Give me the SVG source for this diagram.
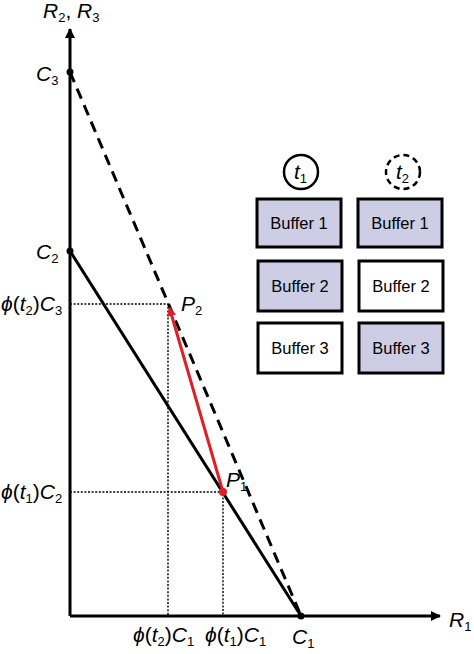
<svg xmlns="http://www.w3.org/2000/svg" width="474" height="654" viewBox="0 0 474 654">
<style>
.lbl{font-family:"Liberation Sans",Arial,sans-serif;font-size:21px;font-style:italic;fill:#000}
.up{font-style:normal}
.sub{font-size:13px;font-style:normal}
.btxt{font-family:"Liberation Sans",Arial,sans-serif;font-size:16.5px;fill:#000;text-anchor:middle}
.box{stroke:#000;stroke-width:3}
.on{fill:#cdcde6}
.off{fill:#fff}
.dot{stroke:#000;stroke-width:1.4;stroke-dasharray:2 1.6;fill:none}
</style>
<defs>
<marker id="ah" markerWidth="10" markerHeight="10" refX="9" refY="5" orient="auto" markerUnits="userSpaceOnUse">
<path d="M0,0 L10,5 L0,10 Z" fill="#000"/>
</marker>
<marker id="ahr" markerWidth="10" markerHeight="10" refX="8" refY="5" orient="auto" markerUnits="userSpaceOnUse">
<path d="M0,0.5 L9,5 L0,9.5 Z" fill="#e01e26"/>
</marker>
</defs>
<rect width="474" height="654" fill="#fff"/>
<g id="connectors">
<line x1="70" y1="616" x2="70" y2="29" stroke="#000" stroke-width="3" marker-end="url(#ah)"/>
<line x1="70" y1="616" x2="440" y2="616" stroke="#000" stroke-width="3" marker-end="url(#ah)"/>
<line x1="70" y1="72" x2="301" y2="616" stroke="#000" stroke-width="3" stroke-dasharray="11 7"/>
<line x1="70" y1="251" x2="301" y2="616" stroke="#000" stroke-width="3"/>
<path class="dot" d="M70,304 H168 V616"/>
<path class="dot" d="M70,492 H223 V616"/>
<line x1="223" y1="492" x2="169.5" y2="308" stroke="#e01e26" stroke-width="3" marker-end="url(#ahr)"/>
<circle cx="70" cy="72" r="3.5" fill="#000"/>
<circle cx="70" cy="251" r="3.5" fill="#000"/>
<circle cx="301" cy="616" r="3.5" fill="#000"/>
<circle cx="223" cy="492" r="4" fill="#e01e26"/>
</g>
<g id="axis-labels">
<text class="lbl" x="43" y="18">R<tspan class="sub" dy="4">2</tspan><tspan class="up" dy="-4">, </tspan>R<tspan class="sub" dy="4">3</tspan></text>
<text class="lbl" x="449" y="627">R<tspan class="sub" dy="4">1</tspan></text>
<text class="lbl" x="36" y="81">C<tspan class="sub" dy="4">3</tspan></text>
<text class="lbl" x="36" y="259">C<tspan class="sub" dy="4">2</tspan></text>
<text class="lbl" x="1" y="311">ϕ<tspan class="up">(</tspan>t<tspan class="sub" dy="4">2</tspan><tspan class="up" dy="-4">)</tspan>C<tspan class="sub" dy="4">3</tspan></text>
<text class="lbl" x="1" y="499">ϕ<tspan class="up">(</tspan>t<tspan class="sub" dy="4">1</tspan><tspan class="up" dy="-4">)</tspan>C<tspan class="sub" dy="4">2</tspan></text>
<text class="lbl" x="133" y="642">ϕ<tspan class="up">(</tspan>t<tspan class="sub" dy="4">2</tspan><tspan class="up" dy="-4">)</tspan>C<tspan class="sub" dy="4">1</tspan></text>
<text class="lbl" x="205" y="642">ϕ<tspan class="up">(</tspan>t<tspan class="sub" dy="4">1</tspan><tspan class="up" dy="-4">)</tspan>C<tspan class="sub" dy="4">1</tspan></text>
<text class="lbl" x="292" y="644">C<tspan class="sub" dy="4">1</tspan></text>
<text class="lbl" x="181" y="311">P<tspan class="sub" dy="4">2</tspan></text>
<text class="lbl" x="226" y="487">P<tspan class="sub" dy="4">1</tspan></text>
</g>
<g id="t1">
<circle cx="301" cy="172" r="17" fill="#fff" stroke="#000" stroke-width="2.5"/>
<text class="lbl" x="294" y="179" font-size="20">t<tspan class="sub" dy="4" font-size="12">1</tspan></text>
</g>
<g id="t2">
<circle cx="403" cy="172" r="17" fill="#fff" stroke="#000" stroke-width="2.5" stroke-dasharray="6 4"/>
<text class="lbl" x="396" y="179" font-size="20">t<tspan class="sub" dy="4" font-size="12">2</tspan></text>
</g>
<g id="t1-buffer1"><rect class="box on" x="257" y="199" width="84" height="48"/><text class="btxt" x="299" y="229">Buffer 1</text></g>
<g id="t2-buffer1"><rect class="box on" x="358" y="199" width="84" height="48"/><text class="btxt" x="400" y="229">Buffer 1</text></g>
<g id="t1-buffer2"><rect class="box on" x="258" y="261" width="84" height="50"/><text class="btxt" x="300" y="292">Buffer 2</text></g>
<g id="t2-buffer2"><rect class="box off" x="359" y="261" width="84" height="50"/><text class="btxt" x="401" y="292">Buffer 2</text></g>
<g id="t1-buffer3"><rect class="box off" x="258" y="323" width="84" height="50"/><text class="btxt" x="300" y="354">Buffer 3</text></g>
<g id="t2-buffer3"><rect class="box on" x="359" y="323" width="84" height="50"/><text class="btxt" x="401" y="354">Buffer 3</text></g>
</svg>
